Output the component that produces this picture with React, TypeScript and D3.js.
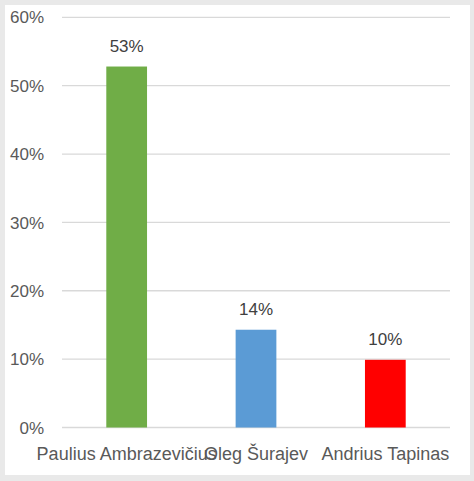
import React, { useRef, useEffect } from 'react';
import * as d3 from 'd3';

const candidates = ['Paulius Ambrazevičius', 'Oleg Šurajev', 'Andrius Tapinas'];
const shares = [0.528, 0.143, 0.099];
const barColors = ['#70AD47', '#5B9BD5', '#FF0000'];
const yTicks = [0, 0.1, 0.2, 0.3, 0.4, 0.5, 0.6];

const W = 474;
const H = 481;

const App: React.FC = () => {
  const svgRef = useRef<SVGSVGElement>(null);

  useEffect(() => {
    if (!svgRef.current) return;
    const svg = d3.select(svgRef.current);
    svg.selectAll('*').remove();

    const font = '"Liberation Sans", Arial, sans-serif';
    const textColor = '#595959';

    // frame
    svg.append('rect').attr('width', W).attr('height', H).attr('fill', '#e9e9e9');
    svg.append('rect').attr('x', 5).attr('y', 5).attr('width', 465).attr('height', 470).attr('fill', '#fff');

    const x = d3.scaleBand<string>()
      .domain(candidates)
      .range([62, 450])
      .paddingInner(0.685)
      .paddingOuter(0.3425);

    const y = d3.scaleLinear().domain([0, 0.6]).range([427.5, 17.3]);
    const pct = d3.format('.0%');

    // gridlines
    svg.append('g')
      .selectAll('line')
      .data(yTicks)
      .join('line')
      .attr('x1', 62)
      .attr('x2', 450)
      .attr('y1', d => y(d))
      .attr('y2', d => y(d))
      .attr('stroke', '#d9d9d9')
      .attr('stroke-width', 1.3);

    // y tick labels
    svg.append('g')
      .selectAll('text')
      .data(yTicks)
      .join('text')
      .attr('x', 44)
      .attr('y', d => y(d))
      .attr('dy', '0.36em')
      .attr('text-anchor', 'end')
      .attr('font-family', font)
      .attr('font-size', 17)
      .attr('fill', textColor)
      .text(d => pct(d));

    // bars
    svg.append('g')
      .selectAll('rect')
      .data(shares)
      .join('rect')
      .attr('x', (_, i) => x(candidates[i])!)
      .attr('width', x.bandwidth())
      .attr('y', d => y(d))
      .attr('height', d => y(0) - y(d))
      .attr('fill', (_, i) => barColors[i]);

    // value labels
    svg.append('g')
      .selectAll('text')
      .data(shares)
      .join('text')
      .attr('x', (_, i) => x(candidates[i])! + x.bandwidth() / 2)
      .attr('y', d => y(d) - 15)
      .attr('text-anchor', 'middle')
      .attr('font-family', font)
      .attr('font-size', 17)
      .attr('fill', '#404040')
      .text(d => pct(d));

    // category labels
    svg.append('g')
      .selectAll('text')
      .data(candidates)
      .join('text')
      .attr('x', d => x(d)! + x.bandwidth() / 2)
      .attr('y', 460)
      .attr('text-anchor', 'middle')
      .attr('font-family', font)
      .attr('font-size', 18)
      .attr('fill', textColor)
      .text(d => d);
  }, []);

  return (
    <svg
      ref={svgRef}
      width={W}
      height={H}
      style={{ position: 'absolute', left: 0, top: 0 }}
    />
  );
};

export default App;
